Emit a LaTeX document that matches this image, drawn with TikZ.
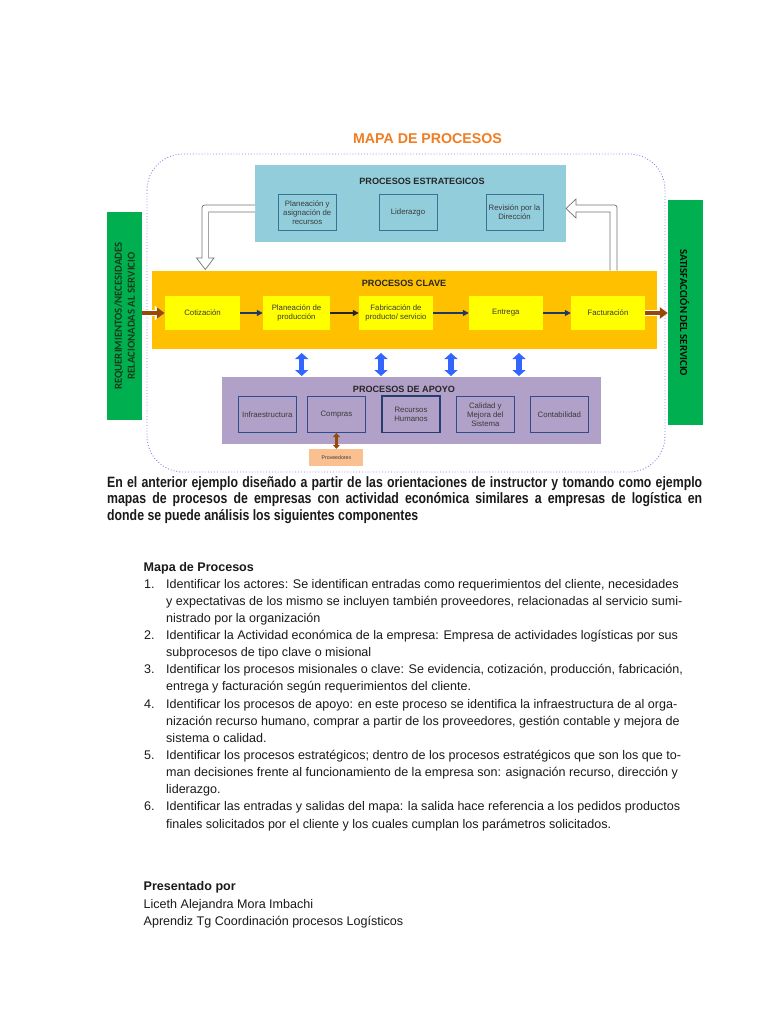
\documentclass[tikz,border=0pt]{standalone}
\usepackage{fontspec}
\setmainfont{Liberation Sans}
\newfontfamily\narrowfont[FakeStretch=0.82]{Liberation Sans}
\newfontfamily\carlitofont{Carlito}
\usetikzlibrary{arrows.meta}
\definecolor{stratblue}{HTML}{92CDDC}
\definecolor{stratborder}{HTML}{3A7391}
\definecolor{keyorange}{HTML}{FFC000}
\definecolor{keyyellow}{HTML}{FFFF00}
\definecolor{supfill}{HTML}{B1A0C7}
\definecolor{supborder}{HTML}{2E4D8F}
\definecolor{greenbar}{HTML}{00B050}
\definecolor{greentext}{HTML}{153D18}
\definecolor{brownarrow}{HTML}{984807}
\definecolor{bluearrow}{HTML}{3366FF}
\definecolor{navyarrow}{HTML}{1F3864}
\definecolor{titleorange}{HTML}{F07D22}
\definecolor{provfill}{HTML}{FAC090}
\definecolor{dotblue}{HTML}{8585F0}
\definecolor{bodytext}{HTML}{1A1A1A}
\definecolor{boxtext}{HTML}{3A3A3A}
\tikzset{
  panel/.style={draw=none, inner sep=0pt, anchor=center},
  subbox/.style={draw, line width=0.8pt, inner sep=1pt, anchor=center, align=center,
    font=\fontsize{7.8}{9}\selectfont, text=boxtext},
  keybox/.style={fill=keyyellow, draw=none, inner sep=1pt, anchor=center, align=center,
    font=\fontsize{7.8}{9}\selectfont, text=boxtext},
  paneltitle/.style={inner sep=0pt, font=\bfseries\fontsize{9.1}{11}\selectfont, text=black!85},
  navyarr/.style={draw=navyarrow, line width=1.4pt, -{Triangle[width=6pt,length=6pt]}},
  brownarr/.style={draw=brownarrow, line width=4.5pt, -{Triangle[width=11pt,length=8pt]},
    preaction={draw=white, line width=6.5pt, -{Triangle[width=14pt,length=10pt]}}},
  browndbl/.style={draw=brownarrow, line width=2.5pt, {Triangle[width=7pt,length=4pt]}-{Triangle[width=7pt,length=4pt]}},
  bluedbl/.style={draw=bluearrow, line width=5.5pt, {Triangle[width=13pt,length=6pt]}-{Triangle[width=13pt,length=6pt]}},
  hollow/.style={draw=black!55, fill=white, line width=0.7pt, line join=miter},
  bodyline/.style={anchor=base west, inner sep=0pt, text=bodytext,
    font=\fontsize{12.55}{15}\selectfont},
  boldline/.style={anchor=base west, inner sep=0pt, text=bodytext,
    font=\narrowfont\bfseries\fontsize{15}{17}\selectfont},
  greenlabel/.style={inner sep=0pt, anchor=center, align=center, text=greentext,
    font=\carlitofont\bfseries\fontsize{10.8}{13}\selectfont},
}
\begin{document}
\begin{tikzpicture}[x=1pt,y=-1pt]
\useasboundingbox[fill=white] (0,0) rectangle (768,1024);

% title
\node[inner sep=0pt, font=\bfseries\fontsize{14.2}{17}\selectfont, text=titleorange] (title) at (427.5,139) {MAPA DE PROCESOS};

% dotted frame
\draw[dotblue, dotted, line width=0.9pt, rounded corners=36pt] (147,154) rectangle (665,472);

% green bars
\node[panel, fill=greenbar, minimum width=35pt, minimum height=208pt] (lbar) at (124.2,316) {};
\node[greenlabel, rotate=90] (ltext) at (124.6,316) {REQUERIMIENTOS/NECESIDADES\\RELACIONADAS AL SERVICIO};
\node[panel, fill=greenbar, minimum width=35pt, minimum height=225pt] (rbar) at (685.5,312.5) {};
\node[greenlabel, rotate=-90, text=black!80!greentext] (rtext) at (684.5,313) {SATISFACCIÓN DEL SERVICIO};

% strategic
\node[panel, fill=stratblue, minimum width=311pt, minimum height=77pt] (strat) at (410.5,203.5) {};
\node[paneltitle] (strattitle) at (422,181) {PROCESOS ESTRATEGICOS};
\node[subbox, draw=stratborder, fill=stratblue, minimum width=57.5pt, minimum height=36.5pt] (s1) at (307.25,212.3) {Planeación y\\asignación de\\recursos};
\node[subbox, draw=stratborder, fill=stratblue, minimum width=58pt, minimum height=36.5pt] (s2) at (408,212.3) {Liderazgo};
\node[subbox, draw=stratborder, fill=stratblue, minimum width=57pt, minimum height=36.5pt] (s3) at (514.5,212.3) {Revisión por la\\Dirección};

% key processes
\node[panel, fill=keyorange, minimum width=505pt, minimum height=78pt] (key) at (404.5,309.5) {};
\node[paneltitle] (keytitle) at (404,283.5) {PROCESOS CLAVE};
\node[keybox, minimum width=75pt, minimum height=34pt] (k1) at (202.5,313) {Cotización};
\node[keybox, minimum width=67pt, minimum height=34pt] (k2) at (296.5,313) {Planeación de\\producción};
\node[keybox, minimum width=74pt, minimum height=34pt] (k3) at (396,313) {Fabricación de\\producto/ servicio};
\node[keybox, minimum width=73.6pt, minimum height=34pt] (k4) at (505.8,313) {Entrega};
\node[keybox, minimum width=74pt, minimum height=34pt] (k5) at (608,313) {Facturación};
\draw[navyarr] (k1.east) -- (k2.west);
\draw[navyarr, draw=black!85] (k2.east) -- (k3.west);
\draw[navyarr] (k3.east) -- (k4.west);
\draw[navyarr] (k4.east) -- (k5.west);
\draw[brownarr] (lbar.east |- k1.west) -- (k1.west);
\draw[brownarr] (k5.east) -- (rbar.west |- k5.east);

% hollow arrows
\coordinate (lstart) at (255,205);
\coordinate (rtip) at (566,208.5);
\coordinate (rfoot) at (610,270.5);
\draw[hollow] (lstart) -- (208,205) .. controls (202,205) .. (202,211) -- (202,258)
  -- (196.5,258) -- (205.3,269.5) -- (214,258) -- (208.6,258) -- (208.6,212) -- (255,212);
\draw[hollow] (rfoot) -- (610,212) -- (576,212) -- (576,218) -- (rtip)
  -- (576,199) -- (576,205) -- (611.5,205) .. controls (617,205) .. (617,210.5) -- (617,270.5);

% support
\node[panel, fill=supfill, minimum width=379.2pt, minimum height=67pt] (sup) at (411.1,410.5) {};
\node[paneltitle] (suptitle) at (404,389.5) {PROCESOS DE APOYO};
\node[subbox, draw=supborder, fill=supfill, minimum width=57.5pt, minimum height=36.7pt] (a1) at (267.25,414.3) {Infraestructura};
\node[subbox, draw=supborder, fill=supfill, minimum width=57.2pt, minimum height=36.7pt] (a2) at (336.4,414.3) {Compras};
\node[subbox, draw=supborder!80!black, line width=1.1pt, fill=supfill, minimum width=58pt, minimum height=36.7pt] (a3) at (411,414.3) {Recursos\\Humanos};
\node[subbox, draw=supborder, fill=supfill, minimum width=57.3pt, minimum height=36.7pt] (a4) at (485.35,414.3) {Calidad y\\Mejora del\\Sistema};
\node[subbox, draw=supborder, fill=supfill, minimum width=57.3pt, minimum height=36.7pt] (a5) at (559.35,414.3) {Contabilidad};

% blue double arrows
\draw[bluedbl] (301.7,353) -- (301.7,376);
\draw[bluedbl] (381,353) -- (381,376);
\draw[bluedbl] (451,353) -- (451,376);
\draw[bluedbl] (519,353) -- (519,376);

% proveedores
\node[panel, fill=provfill, minimum width=54pt, minimum height=17pt, font=\fontsize{5.2}{6}\selectfont, text=boxtext] (prov) at (336.4,457.5) {Proveedores};
\draw[browndbl] (a2.south) -- (prov.north);

% body text
\node[boldline] (p1) at (107,487) {\makebox[595pt][s]{En el anterior ejemplo diseñado a partir de las orientaciones de instructor y tomando como ejemplo}};
\node[boldline] (p2) at (107,503.7) {\makebox[595pt][s]{mapas de procesos de empresas con actividad económica similares a empresas de logística en}};
\node[boldline] (p3) at (107,520.4) {donde se puede análisis los siguientes componentes};

\node[bodyline, font=\bfseries\fontsize{12.55}{15}\selectfont] (mh) at (143.5,571.5) {Mapa de Procesos};

\node[bodyline] (n1) at (144,588) {1.};
\node[bodyline] (l1a) at (166,588) {Identificar los actores: Se identifican entradas como requerimientos del cliente, necesidades};
\node[bodyline] (l1b) at (166,605.15) {y expectativas de los mismo se incluyen también proveedores, relacionadas al servicio sumi-};
\node[bodyline] (l1c) at (166,622.3) {nistrado por la organización};
\node[bodyline] (n2) at (144,639.45) {2.};
\node[bodyline] (l2a) at (166,639.45) {Identificar la Actividad económica de la empresa: Empresa de actividades logísticas por sus};
\node[bodyline] (l2b) at (166,656.6) {subprocesos de tipo clave o misional};
\node[bodyline] (n3) at (144,673.75) {3.};
\node[bodyline] (l3a) at (166,673.75) {Identificar los procesos misionales o clave: Se evidencia, cotización, producción, fabricación,};
\node[bodyline] (l3b) at (166,690.9) {entrega y facturación según requerimientos del cliente.};
\node[bodyline] (n4) at (144,708.05) {4.};
\node[bodyline] (l4a) at (166,708.05) {Identificar los procesos de apoyo: en este proceso se identifica la infraestructura de al orga-};
\node[bodyline] (l4b) at (166,725.2) {nización recurso humano, comprar a partir de los proveedores, gestión contable y mejora de};
\node[bodyline] (l4c) at (166,742.35) {sistema o calidad.};
\node[bodyline] (n5) at (144,759.5) {5.};
\node[bodyline] (l5a) at (166,759.5) {Identificar los procesos estratégicos; dentro de los procesos estratégicos que son los que to-};
\node[bodyline] (l5b) at (166,776.65) {man decisiones frente al funcionamiento de la empresa son: asignación recurso, dirección y};
\node[bodyline] (l5c) at (166,793.8) {liderazgo.};
\node[bodyline] (n6) at (144,810.95) {6.};
\node[bodyline] (l6a) at (166,810.95) {Identificar las entradas y salidas del mapa: la salida hace referencia a los pedidos productos};
\node[bodyline] (l6b) at (166,828.1) {finales solicitados por el cliente y los cuales cumplan los parámetros solicitados.};

\node[bodyline, font=\bfseries\fontsize{12.55}{15}\selectfont] (pp) at (143.5,890.5) {Presentado por};
\node[bodyline] (pn) at (143.5,908.2) {Liceth Alejandra Mora Imbachi};
\node[bodyline] (pa) at (143.5,925.9) {Aprendiz Tg Coordinación procesos Logísticos};
\end{tikzpicture}
\end{document}
